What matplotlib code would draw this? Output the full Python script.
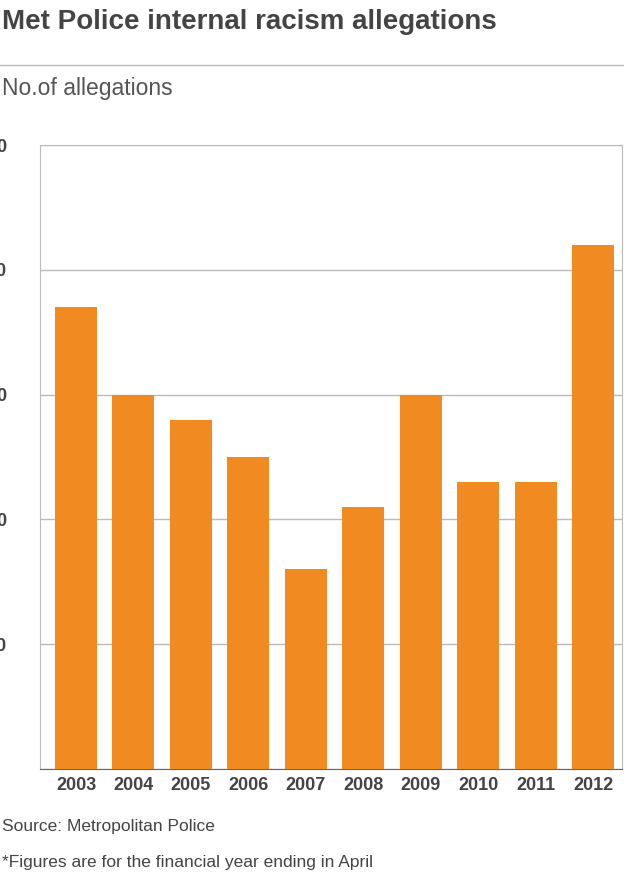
import matplotlib
matplotlib.use("Agg")
import matplotlib.pyplot as plt

years = ["2003","2004","2005","2006","2007","2008","2009","2010","2011","2012"]
values = [37, 30, 28, 25, 16, 21, 30, 23, 23, 42]
yticks = [0, 10, 20, 30, 40, 50]

plt.rcParams['font.family'] = ['Liberation Sans', 'DejaVu Sans']
fig = plt.figure(figsize=(6.24, 8.92), dpi=100)
ax = fig.add_axes([40/624, 123/892, 582/624, 624/892])
x = list(range(len(years)))
ax.bar(x, values, width=0.73, color="#f28a22", zorder=3)
ax.set_xlim(-0.627, 9.505)
ax.set_ylim(0, 50)
ax.set_yticks(yticks)
ax.set_yticklabels([str(t) for t in yticks], fontsize=13, color="#444444", fontweight="bold")
ax.set_xticks(x)
ax.set_xticklabels(years, fontsize=13, color="#444444", fontweight="bold")
ax.tick_params(length=0, pad=6)
for lbl in ax.get_yticklabels():
    lbl.set_horizontalalignment('left')
ax.tick_params(axis='y', pad=38)
ax.grid(axis='y', color="#bbbbbb", linewidth=1, zorder=0)
for s in ['top', 'right', 'left']:
    ax.spines[s].set_color("#bbbbbb")
ax.spines['bottom'].set_color("#666666")

fig.text(0.003, 1-22/892, "Met Police internal racism allegations", fontsize=20, fontweight="bold",
         color="#444444", va="center")
fig.add_artist(plt.Line2D([0, 1], [1-65/892, 1-65/892], color="#bbbbbb", linewidth=1))
fig.text(0.003, 1-89/892, "No.of allegations", fontsize=16.5, color="#555555", va="center")
fig.text(0.003, 1-826/892, "Source: Metropolitan Police", fontsize=12.5, color="#444444", va="center")
fig.text(0.003, 1-862/892, "*Figures are for the financial year ending in April", fontsize=12.5,
         color="#444444", va="center")
fig.savefig("out.png", dpi=100, facecolor="white")
